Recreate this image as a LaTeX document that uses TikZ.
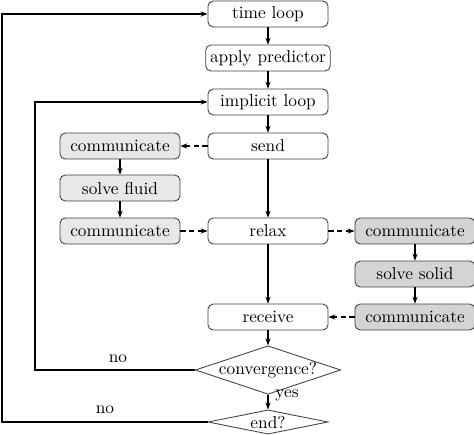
\documentclass[tikz,border=0pt]{standalone}
\usetikzlibrary{shapes.geometric,arrows.meta}
\begin{document}
\begin{tikzpicture}[x=0.578pt,y=-0.578pt,
  box/.style={draw=black!75, rounded corners=3pt, minimum width=69.4pt, minimum height=15pt, inner sep=1pt, line width=0.5pt},
  fluidbox/.style={box, fill=black!9},
  solidbox/.style={box, fill=black!17},
  dec/.style={draw=black!75, shape=diamond, inner sep=0pt, line width=0.5pt},
  arr/.style={-{Stealth[length=4pt,width=3pt]}, line width=0.6pt},
  darr/.style={arr, dash pattern=on 3pt off 2pt},
  lbl/.style={inner sep=1pt}
]
\useasboundingbox (0,0) rectangle (474,434);
\node[box] (time) at (268,14) {time loop};
\node[box, minimum width=72pt] (pred) at (268,58) {apply predictor};
\node[box] (impl) at (268,102) {implicit loop};
\node[box] (send) at (268,146) {send};
\node[fluidbox] (cf1) at (120,146) {communicate};
\node[fluidbox] (sf) at (120,188) {solve fluid};
\node[fluidbox] (cf2) at (120,231) {communicate};
\node[box] (relax) at (268,231) {relax};
\node[solidbox] (cs1) at (415,231) {communicate};
\node[solidbox] (ss) at (415,274) {solve solid};
\node[solidbox] (cs2) at (415,317) {communicate};
\node[box] (recv) at (268,317) {receive};
\node[dec, shape aspect=3, minimum width=81.5pt, minimum height=26.6pt] (conv) at (268,370) {convergence?};
\node[dec, shape aspect=5, minimum width=69.4pt, minimum height=14pt] (end) at (268,422) {end?};
\coordinate (c1) at (35,370);
\coordinate (c2) at (2,422);

\draw[arr] (time) -- (pred);
\draw[arr] (pred) -- (impl);
\draw[arr] (impl) -- (send);
\draw[arr] (send) -- (relax);
\draw[arr] (relax) -- (recv);
\draw[arr] (recv) -- (conv);
\draw[arr] (conv) -- (end);
\draw[arr] (cf1) -- (sf);
\draw[arr] (sf) -- (cf2);
\draw[arr] (cs1) -- (ss);
\draw[arr] (ss) -- (cs2);
\draw[darr] (send) -- (cf1);
\draw[darr] (cf2) -- (relax);
\draw[darr] (relax) -- (cs1);
\draw[darr] (cs2) -- (recv);
\draw[arr] (conv.west) -- (c1) |- (impl.west);
\draw[arr, line width=0.9pt] (end.west) -- (c2) |- (time.west);
\node[lbl] (no1) at (118,359) {no};
\node[lbl] (no2) at (105,410) {no};
\node[lbl] (yes) at (287,395) {yes};
\end{tikzpicture}
\end{document}
